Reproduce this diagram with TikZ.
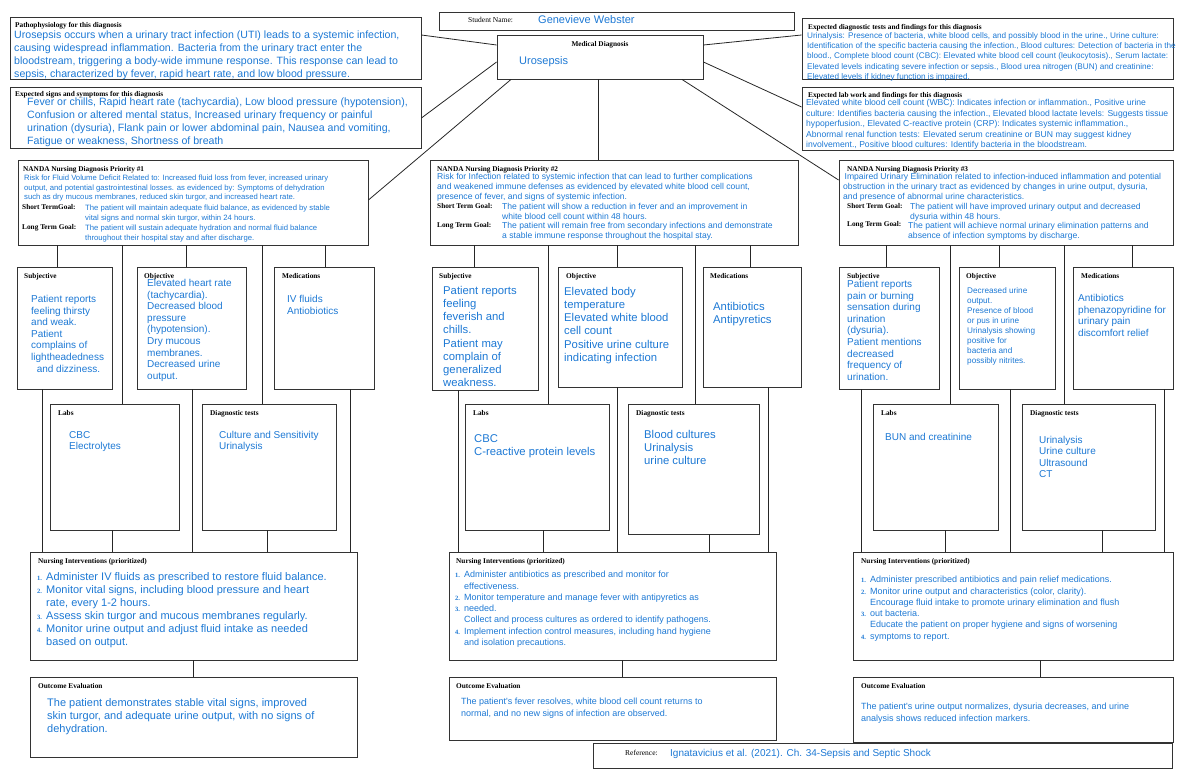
\documentclass[tikz,border=0pt]{standalone}
\usepackage{fontspec}
\setmainfont{Liberation Serif}
\newfontfamily\ar{Liberation Sans}
\definecolor{bl}{RGB}{28,120,212}
\newcommand{\fs}[2]{\fontsize{#1}{#2}\selectfont}
\newcommand{\nm}[1]{\makebox[9pt][l]{\rmfamily\bfseries\fontsize{6.5}{7}\selectfont #1}}
\newcommand{\nin}{\hspace*{9pt}}
\begin{document}
\begin{tikzpicture}[x=1pt,y=-1pt,
  box/.style={draw=black!80,line width=0.9pt,rectangle,inner sep=0pt},
  ttl/.style={anchor=north west,inner sep=0pt,font=\rmfamily\bfseries\fs{7.3}{8.5}},
  txt/.style={anchor=north west,inner sep=0pt,align=left,text=bl},
  ln/.style={draw=black!85,line width=0.8pt}]
\useasboundingbox (0,0) rectangle (1200,776);
\newcommand{\bx}[5]{\node[box,minimum width={#4-#2},minimum height={#5-#3}] (#1) at ({(#2+#4)/2},{(#3+#5)/2}) {};}
% top
\bx{stu}{439}{12}{794}{30}
\bx{md}{497}{35}{703}{79}
\bx{pat}{10}{17}{421}{79}
\bx{sig}{10}{87}{421}{148}
\bx{dia}{802}{18}{1173}{79}
\bx{lab}{802}{87}{1173}{150}
\bx{pa}{18}{160}{368}{245}
\bx{pb}{430}{160}{798}{245}
\bx{pc}{839}{160}{1173}{245}
% row 2
\bx{sa}{17}{267}{112}{389}
\bx{oa}{137}{267}{246}{389}
\bx{ma}{274}{267}{374}{389}
\bx{sb}{432}{267}{538}{390}
\bx{ob}{558}{267}{682}{387}
\bx{mb}{703}{267}{801}{387}
\bx{sc}{839}{267}{939}{389}
\bx{oc}{959}{267}{1055}{389}
\bx{mc}{1073}{267}{1173}{389}
% row 3
\bx{la}{50}{404}{179}{530}
\bx{da}{202}{404}{336}{530}
\bx{lb}{465}{404}{609}{530}
\bx{db}{628}{404}{759}{534}
\bx{lc}{873}{404}{998}{530}
\bx{dc}{1022}{404}{1155}{530}
% interventions / outcomes
\bx{ia}{30}{552}{357}{660}
\bx{ib}{449}{552}{776}{660}
\bx{ic}{853}{552}{1173}{660}
\bx{ea}{30}{677}{357}{757}
\bx{eb}{449}{677}{776}{740}
\bx{ec}{853}{677}{1173}{742}
\bx{ref}{593}{743}{1172}{768}
% connectors top
\draw[ln] (pat.east |- 0,35) -- (md.west |- 0,45);
\draw[ln] (sig.east |- 0,118) -- (md.west |- 0,62);
\draw[ln] (md.east |- 0,45) -- (dia.west |- 0,35);
\draw[ln] (md.east |- 0,62) -- (lab.west |- 0,107);
\draw[ln] (md.south -| 511,0) -- (pa.east |- 0,200);
\draw[ln] (md.south -| 598,0) -- (pb.north -| 598,0);
\draw[ln] (md.south -| 682,0) -- (pc.west |- 0,180);
% column connectors
\foreach \p/\s/\o/\m/\l/\d/\i/\xs/\xo/\xm/\xl/\xd/\bs/\bo/\bm/\bl/\bd in
 {pa/sa/oa/ma/la/da/ia/57/186/325/122/262/42/192/350/112/267,
  pb/sb/ob/mb/lb/db/ib/474/617/750/548/695/458/617/768/543/709,
  pc/sc/oc/mc/lc/dc/ic/886/999/1132/950/1064/861/1010/1164/945/1102}{
  \draw[ln] (\p.south -| \xs,0) -- (\s.north -| \xs,0);
  \draw[ln] (\p.south -| \xo,0) -- (\o.north -| \xo,0);
  \draw[ln] (\p.south -| \xm,0) -- (\m.north -| \xm,0);
  \draw[ln] (\p.south -| \xl,0) -- (\l.north -| \xl,0);
  \draw[ln] (\p.south -| \xd,0) -- (\d.north -| \xd,0);
  \draw[ln] (\s.south -| \bs,0) -- (\i.north -| \bs,0);
  \draw[ln] (\o.south -| \bo,0) -- (\i.north -| \bo,0);
  \draw[ln] (\m.south -| \bm,0) -- (\i.north -| \bm,0);
  \draw[ln] (\l.south -| \bl,0) -- (\i.north -| \bl,0);
  \draw[ln] (\d.south -| \bd,0) -- (\i.north -| \bd,0);
}
\draw[ln] (ia.south -| 193,0) -- (ea.north -| 193,0);
\draw[ln] (ib.south -| 622,0) -- (eb.north -| 622,0);
\draw[ln] (ic.south -| 1040,0) -- (ec.north -| 1040,0);
% texts top
\node[ttl,font=\rmfamily\fs{7.5}{8.5}] at (468,17) {Student Name:};
\node[txt,font=\ar\fs{11}{13}] at (538,15) {Genevieve Webster};
\node[ttl,anchor=north] at (600,41) {Medical Diagnosis};
\node[txt,font=\ar\fs{11}{13}] at (519,56) {Urosepsis};
\node[ttl] at (15,22) {Pathophysiology for this diagnosis};
\node[txt,font=\ar\fs{10.6}{13}] at (14,31) {Urosepsis occurs when a urinary tract infection (UTI) leads to a systemic infection,\\causing widespread inflammation. Bacteria from the urinary tract enter the\\bloodstream, triggering a body-wide immune response. This response can lead to\\sepsis, characterized by fever, rapid heart rate, and low blood pressure.};
\node[ttl] at (15,91) {Expected signs and symptoms for this diagnosis};
\node[txt,font=\ar\fs{10.6}{13}] at (27,98) {Fever or chills, Rapid heart rate (tachycardia), Low blood pressure (hypotension),\\Confusion or altered mental status, Increased urinary frequency or painful\\urination (dysuria), Flank pain or lower abdominal pain, Nausea and vomiting,\\Fatigue or weakness, Shortness of breath};
\node[ttl] at (808,24) {Expected diagnostic tests and findings for this diagnosis};
\node[txt,font=\ar\fs{8.2}{10.4}] at (807,32) {Urinalysis: Presence of bacteria, white blood cells, and possibly blood in the urine., Urine culture:\\Identification of the specific bacteria causing the infection., Blood cultures: Detection of bacteria in the\\blood., Complete blood count (CBC): Elevated white blood cell count (leukocytosis)., Serum lactate:\\Elevated levels indicating severe infection or sepsis., Blood urea nitrogen (BUN) and creatinine:\\Elevated levels if kidney function is impaired.};
\node[ttl] at (808,92) {Expected lab work and findings for this diagnosis};
\node[txt,font=\ar\fs{8.6}{10.6}] at (806,99) {Elevated white blood cell count (WBC): Indicates infection or inflammation., Positive urine\\culture: Identifies bacteria causing the infection., Elevated blood lactate levels: Suggests tissue\\hypoperfusion., Elevated C-reactive protein (CRP): Indicates systemic inflammation.,\\Abnormal renal function tests: Elevated serum creatinine or BUN may suggest kidney\\involvement., Positive blood cultures: Identify bacteria in the bloodstream.};
% priority texts
\node[ttl] at (23,166) {NANDA Nursing Diagnosis Priority \#1};
\node[txt,font=\ar\fs{7.7}{9.6}] at (24,175) {Risk for Fluid Volume Deficit Related to: Increased fluid loss from fever, increased urinary\\output, and potential gastrointestinal losses. as evidenced by: Symptoms of dehydration\\such as dry mucous membranes, reduced skin turgor, and increased heart rate.};
\node[ttl] at (22,204) {Short TermGoal:};
\node[txt,font=\ar\fs{7.7}{9.6}] at (85,205) {The patient will maintain adequate fluid balance, as evidenced by stable\\vital signs and normal skin turgor, within 24 hours.};
\node[ttl] at (22,224) {Long Term Goal:};
\node[txt,font=\ar\fs{7.7}{9.6}] at (85,225) {The patient will sustain adequate hydration and normal fluid balance\\throughout their hospital stay and after discharge.};
\node[ttl] at (437,166) {NANDA Nursing Diagnosis Priority \#2};
\node[txt,font=\ar\fs{8.6}{10}] at (437,173) {Risk for Infection related to systemic infection that can lead to further complications\\and weakened immune defenses as evidenced by elevated white blood cell count,\\presence of fever, and signs of systemic infection.};
\node[ttl] at (437,203) {Short Term Goal:};
\node[txt,font=\ar\fs{8.6}{10}] at (502,203) {The patient will show a reduction in fever and an improvement in\\white blood cell count within 48 hours.};
\node[ttl] at (437,222) {Long Term Goal:};
\node[txt,font=\ar\fs{8.6}{10}] at (502,222) {The patient will remain free from secondary infections and demonstrate\\a stable immune response throughout the hospital stay.};
\node[ttl] at (847,166) {NANDA Nursing Diagnosis Priority \#3};
\node[txt,font=\ar\fs{8.6}{10}] at (843,173) {\,Impaired Urinary Elimination related to infection-induced inflammation and potential\\obstruction in the urinary tract as evidenced by changes in urine output, dysuria,\\and presence of abnormal urine characteristics.};
\node[ttl] at (847,203) {Short Term Goal:};
\node[txt,font=\ar\fs{8.6}{10}] at (910,203) {The patient will have improved urinary output and decreased\\dysuria within 48 hours.};
\node[ttl] at (847,221) {Long Term Goal:};
\node[txt,font=\ar\fs{8.6}{10}] at (908,222) {The patient will achieve normal urinary elimination patterns and\\absence of infection symptoms by discharge.};
% row2 texts
\node[ttl] at (24,273) {Subjective};
\node[txt,font=\ar\fs{10}{11.6}] at (31,295) {Patient reports\\feeling thirsty\\and weak.\\Patient\\complains of\\lightheadedness\\\ \ and dizziness.};
\node[ttl] at (144,273) {Objective};
\node[txt,font=\ar\fs{10}{11.6}] at (147,279) {Elevated heart rate\\(tachycardia).\\Decreased blood\\pressure\\(hypotension).\\Dry mucous\\membranes.\\Decreased urine\\output.};
\node[ttl] at (282,273) {Medications};
\node[txt,font=\ar\fs{10}{11.6}] at (287,295) {IV fluids\\Antiobiotics};
\node[ttl] at (439,273) {Subjective};
\node[txt,font=\ar\fs{11.3}{13.2}] at (443,286) {Patient reports\\feeling\\feverish and\\chills.\\Patient may\\complain of\\generalized\\weakness.};
\node[ttl] at (566,273) {Objective};
\node[txt,font=\ar\fs{11.3}{13.2}] at (564,287) {Elevated body\\temperature\\Elevated white blood\\cell count\\Positive urine culture\\indicating infection};
\node[ttl] at (710,273) {Medications};
\node[txt,font=\ar\fs{11.3}{13.2}] at (713,302) {Antibiotics\\Antipyretics};
\node[ttl] at (847,273) {Subjective};
\node[txt,font=\ar\fs{10}{11.6}] at (847,280) {Patient reports\\pain or burning\\sensation during\\urination\\(dysuria).\\Patient mentions\\decreased\\frequency of\\urination.};
\node[ttl] at (966,273) {Objective};
\node[txt,font=\ar\fs{8.2}{10.1}] at (967,287) {Decreased urine\\output.\\Presence of blood\\or pus in urine\\Urinalysis showing\\positive for\\bacteria and\\possibly nitrites.};
\node[ttl] at (1081,273) {Medications};
\node[txt,font=\ar\fs{10}{11.6}] at (1078,294) {Antibiotics\\phenazopyridine for\\urinary pain\\discomfort relief};
% row3
\node[ttl] at (58,410) {Labs};
\node[txt,font=\ar\fs{10}{11.5}] at (69,431) {CBC\\Electrolytes};
\node[ttl] at (210,410) {Diagnostic tests};
\node[txt,font=\ar\fs{10}{11.5}] at (219,431) {Culture and Sensitivity\\Urinalysis};
\node[ttl] at (473,410) {Labs};
\node[txt,font=\ar\fs{11.3}{13.3}] at (474,434) {CBC\\C-reactive protein levels};
\node[ttl] at (636,410) {Diagnostic tests};
\node[txt,font=\ar\fs{11.3}{13.3}] at (644,430) {Blood cultures\\Urinalysis\\urine culture};
\node[ttl] at (881,410) {Labs};
\node[txt,font=\ar\fs{10}{11.5}] at (885,433) {BUN and creatinine};
\node[ttl] at (1030,410) {Diagnostic tests};
\node[txt,font=\ar\fs{10}{11.5}] at (1039,436) {Urinalysis\\Urine culture\\Ultrasound\\CT};
% interventions
\node[ttl] at (38,558) {Nursing Interventions (prioritized)};
\node[txt,font=\ar\fs{11}{13}] at (37,572) {\nm{1.}Administer IV fluids as prescribed to restore fluid balance.\\\nm{2.}Monitor vital signs, including blood pressure and heart\\\nin rate, every 1-2 hours.\\\nm{3.}Assess skin turgor and mucous membranes regularly.\\\nm{4.}Monitor urine output and adjust fluid intake as needed\\\nin based on output.};
\node[ttl] at (456,558) {Nursing Interventions (prioritized)};
\node[txt,font=\ar\fs{9}{11.3}] at (455,571) {\nm{1.}Administer antibiotics as prescribed and monitor for\\\nin effectiveness.\\\nm{2.}Monitor temperature and manage fever with antipyretics as\\\nm{3.}needed.\\\nin Collect and process cultures as ordered to identify pathogens.\\\nm{4.}Implement infection control measures, including hand hygiene\\\nin and isolation precautions.};
\node[ttl] at (861,558) {Nursing Interventions (prioritized)};
\node[txt,font=\ar\fs{9}{11.3}] at (861,576) {\nm{1.}Administer prescribed antibiotics and pain relief medications.\\\nm{2.}Monitor urine output and characteristics (color, clarity).\\\nin Encourage fluid intake to promote urinary elimination and flush\\\nm{3.}out bacteria.\\\nin Educate the patient on proper hygiene and signs of worsening\\\nm{4.}symptoms to report.};
% outcomes
\node[ttl] at (38,683) {Outcome Evaluation};
\node[txt,font=\ar\fs{11}{13}] at (47,698) {The patient demonstrates stable vital signs, improved\\skin turgor, and adequate urine output, with no signs of\\dehydration.};
\node[ttl] at (456,683) {Outcome Evaluation};
\node[txt,font=\ar\fs{9}{11.3}] at (461,698) {The patient's fever resolves, white blood cell count returns to\\normal, and no new signs of infection are observed.};
\node[ttl] at (861,683) {Outcome Evaluation};
\node[txt,font=\ar\fs{9}{11.3}] at (861,703) {The patient's urine output normalizes, dysuria decreases, and urine\\analysis shows reduced infection markers.};
\node[ttl,font=\rmfamily\fs{7.5}{8.5}] at (625,750) {Reference:};
\node[txt,font=\ar\fs{10}{12}] at (670,749) {Ignatavicius et al. (2021). Ch. 34-Sepsis and Septic Shock};
\end{tikzpicture}
\end{document}
